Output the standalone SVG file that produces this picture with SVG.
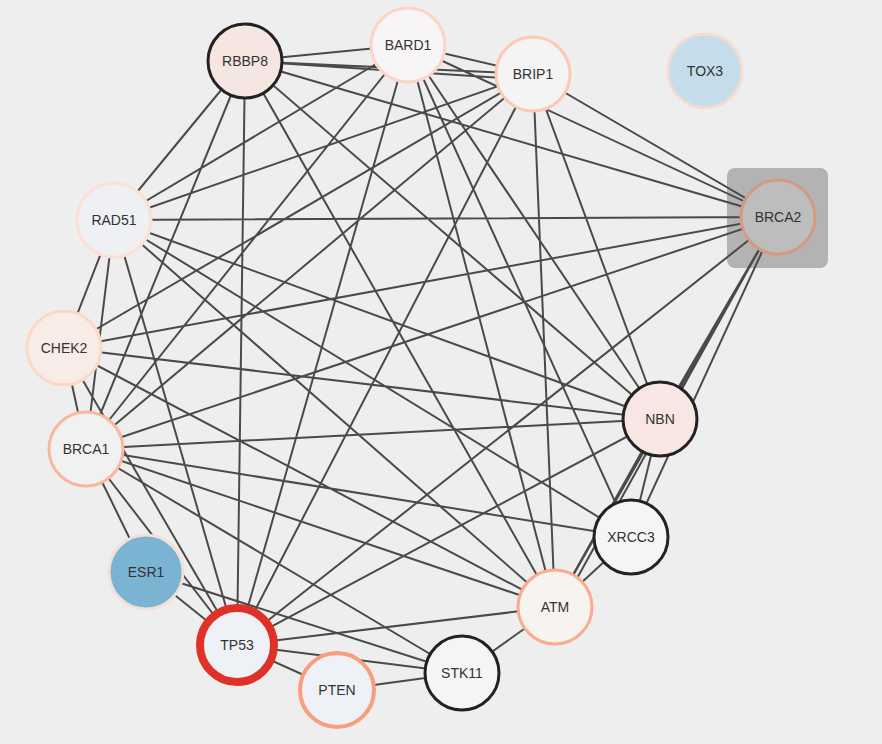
<svg xmlns="http://www.w3.org/2000/svg" width="882" height="744" viewBox="0 0 882 744">
<style>
.e{stroke:#4a4a4a;stroke-width:2;fill:none}
.n circle{stroke-width:3}
.n text{font-family:"Liberation Sans",Arial,sans-serif;font-size:14px;fill:#333;text-anchor:middle;dominant-baseline:central}
</style>
<rect width="882" height="744" fill="#eeeeee"/>
<rect x="727" y="168" width="101" height="100" rx="8" fill="#b3b3b3"/>
<g id="edges">
<path class="e" d="M245 61L408 45M245 61L533 74M245 61L533 80M245 61L778 217M245 61L114 220M245 61L86 449M245 61L237 645M245 61L555 607M245 61L660 419
M408 45L533 74M408 45L778 217M408 45L114 220M408 45L86 449M408 45L237 645M408 45L555 607M408 45L660 419M408 45L631 537
M533 74L778 217M533 74L114 220M533 74L64 348M533 74L86 449M533 74L237 645M533 74L660 419M533 74L555 607
M778 217L114 220M778 217L64 348M778 217L86 449M778 217L237 645M778 217L660 419M778 217L631 537M778 217L555 607M770 230L565 600
M114 220L64 348M114 220L86 449M114 220L237 645M114 220L660 419M114 220L555 607M114 220L631 537
M64 348L86 449M64 348L660 419M64 348L237 645M64 348L555 607
M86 449L660 419M86 449L631 537M86 449L555 607M86 449L146 572M86 449L237 645M86 449L462 673
M660 419L237 645M660 419L555 607M660 419L631 537
M237 645L146 572M237 645L337 690M237 645L462 673M237 645L555 607
M146 572L462 673M462 673L555 607M462 673L337 690M555 607L631 537"/>
</g>
<g id="RBBP8" class="n"><circle cx="245" cy="61" r="37" fill="#f5e6e1" stroke="#222"/><text x="245" y="61">RBBP8</text></g>
<g id="BARD1" class="n"><circle cx="408" cy="45" r="37" fill="#f7f5f5" stroke="#fcd5c5"/><text x="408" y="45">BARD1</text></g>
<g id="BRIP1" class="n"><circle cx="533" cy="74" r="37" fill="#f4f4f4" stroke="#fcc9b5"/><text x="533" y="74">BRIP1</text></g>
<g id="TOX3" class="n"><circle cx="705" cy="71" r="37" fill="#c5dcea" stroke="#f2ddd3"/><text x="705" y="71">TOX3</text></g>
<g id="BRCA2" class="n"><circle cx="778" cy="217" r="37" fill="#bdbdbd" stroke="#d49a80"/><text x="778" y="217">BRCA2</text></g>
<g id="RAD51" class="n"><circle cx="114" cy="220" r="37" fill="#eef0f3" stroke="#fde0d5"/><text x="114" y="220">RAD51</text></g>
<g id="CHEK2" class="n"><circle cx="64" cy="348" r="37" fill="#f9ebe5" stroke="#fdd8c8"/><text x="64" y="348">CHEK2</text></g>
<g id="NBN" class="n"><circle cx="660" cy="419" r="37" fill="#f7e6e1" stroke="#222"/><text x="660" y="419">NBN</text></g>
<g id="BRCA1" class="n"><circle cx="86" cy="449" r="37" fill="#f1f1f1" stroke="#fbb79e"/><text x="86" y="449">BRCA1</text></g>
<g id="XRCC3" class="n"><circle cx="631" cy="537" r="37" fill="#f5f5f5" stroke="#222"/><text x="631" y="537">XRCC3</text></g>
<g id="ESR1" class="n"><circle cx="146" cy="572" r="37" fill="#7bb3d3" stroke="#f0e0d8"/><text x="146" y="572">ESR1</text></g>
<g id="ATM" class="n"><circle cx="555" cy="607" r="37" fill="#f6f3f1" stroke="#fbab8e"/><text x="555" y="607">ATM</text></g>
<g id="TP53" class="n"><circle cx="237" cy="645" r="37" fill="#eef1f5" stroke="#e03128" style="stroke-width:8"/><text x="237" y="645">TP53</text></g>
<g id="STK11" class="n"><circle cx="462" cy="673" r="37" fill="#f5f5f5" stroke="#222"/><text x="462" y="673">STK11</text></g>
<g id="PTEN" class="n"><circle cx="337" cy="690" r="37" fill="#eef1f5" stroke="#f79e7f" style="stroke-width:4"/><text x="337" y="690">PTEN</text></g>
</svg>
